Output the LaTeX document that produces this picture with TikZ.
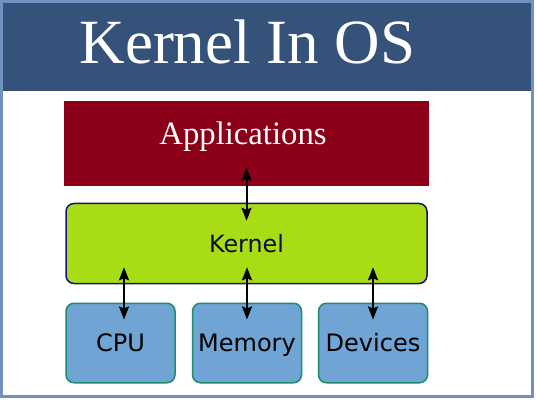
\documentclass[tikz,border=0pt]{standalone}
\usepackage{fontspec}
\setmainfont{Liberation Serif}
\newfontfamily\dejavu{DejaVu Sans}
\usetikzlibrary{arrows.meta}
\definecolor{frameblue}{RGB}{112,146,192}
\definecolor{titleblue}{RGB}{52,82,122}
\definecolor{appred}{RGB}{139,0,24}
\definecolor{kgreen}{RGB}{168,220,20}
\definecolor{knavy}{RGB}{20,20,120}
\definecolor{hwblue}{RGB}{111,164,212}
\definecolor{hwteal}{RGB}{30,140,110}
\tikzset{
    RA1/.style ={rectangle, minimum width = 365pt, minimum height = 85pt, fill=appred, inner sep=0pt},
    RR1/.style ={rectangle, rounded corners=8pt, minimum width = 361pt, minimum height = 80pt, draw=knavy, line width=1.5pt, fill=kgreen, text={rgb,1:red,0.05;green,0.05;blue,0.2}, font=\dejavu\fontsize{23.8}{28}\selectfont, text height=17pt, text depth=0pt, inner sep=0pt},
    RR2/.style ={rectangle, rounded corners=8pt, minimum width = 109pt, minimum height = 79.5pt, draw=hwteal, line width=1.5pt, fill=hwblue, font=\dejavu\fontsize{24}{28}\selectfont, text height=17pt, text depth=0pt, inner sep=0pt},
    DA/.style ={{Stealth[length=13pt,width=10pt,inset=2pt]}-{Stealth[length=13pt,width=10pt,inset=2pt]}, line width=2pt}
}

\begin{document}
\begin{tikzpicture}[x=1pt,y=-1pt]
        \fill[white] (0,0) rectangle (537,400);
        \draw[frameblue, line width=3pt] (1.5,1) rectangle (532.5,396);
        \fill[titleblue] (3,2.5) rectangle (531,91);
        \node[text=white, font=\fontsize{63}{70}\selectfont, anchor=base] (title) at (247.5,63) {Kernel In OS};
        \node[RA1] (apps) at (246.5,143.5) {};
        \node[text=white, font=\fontsize{32.7}{38}\selectfont, anchor=base] (appstext) at (243,144) {Applications};
        \node[RR1] (kernel) at (246.5,243) {Kernel};
        \node[RR2] (cpu) at (120.5,342.5) {CPU};
        \node[RR2] (memory) at (247,342.5) {Memory};
        \node[RR2] (devices) at (373,342.5) {Devices};
        \coordinate (cpuarr) at ([xshift=3.5pt]cpu.north);
        \draw[DA, shorten <=-19pt, shorten >=-18pt] (apps.south) -- (kernel.north);
        \draw[DA, shorten <=-17pt, shorten >=-17pt] (cpuarr |- kernel.south) -- (cpuarr);
        \draw[DA, shorten <=-17pt, shorten >=-17pt] (memory.north |- kernel.south) -- (memory.north);
        \draw[DA, shorten <=-17pt, shorten >=-17pt] (devices.north |- kernel.south) -- (devices.north);
    \end{tikzpicture}
\end{document}
